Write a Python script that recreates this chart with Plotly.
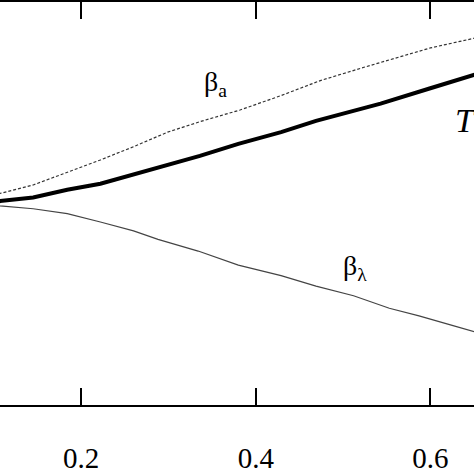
import plotly.graph_objects as go

# T (thick solid)
t_x = [0.100, 0.107, 0.145, 0.184, 0.222, 0.260, 0.299, 0.336, 0.380, 0.429, 0.469, 0.507, 0.543, 0.600, 0.650, 0.660]
t_y = [0.501, 0.506, 0.515, 0.534, 0.549, 0.572, 0.594, 0.618, 0.648, 0.677, 0.705, 0.727, 0.748, 0.786, 0.819, 0.826]

# beta_a (dashed)
ba_x = [0.100, 0.107, 0.145, 0.184, 0.222, 0.260, 0.299, 0.336, 0.382, 0.428, 0.474, 0.524, 0.543, 0.600, 0.650, 0.660]
ba_y = [0.520, 0.525, 0.546, 0.577, 0.608, 0.641, 0.677, 0.703, 0.732, 0.767, 0.805, 0.838, 0.850, 0.886, 0.910, 0.915]

# beta_lambda (thin solid)
bl_x = [0.100, 0.107, 0.145, 0.184, 0.222, 0.260, 0.288, 0.334, 0.380, 0.429, 0.469, 0.512, 0.553, 0.587, 0.626, 0.650, 0.660]
bl_y = [0.496, 0.494, 0.487, 0.475, 0.454, 0.432, 0.411, 0.382, 0.347, 0.321, 0.295, 0.271, 0.240, 0.221, 0.197, 0.181, 0.176]

tick_vals = [0.2, 0.4, 0.6]
tick_text = ["0.2", "0.4", "0.6"]

fig = go.Figure()
fig.add_trace(go.Scatter(x=ba_x, y=ba_y, mode="lines",
                         line=dict(color="#333333", width=1.2, dash="3px,2px")))
fig.add_trace(go.Scatter(x=bl_x, y=bl_y, mode="lines",
                         line=dict(color="#444444", width=1.2)))
fig.add_trace(go.Scatter(x=t_x, y=t_y, mode="lines",
                         line=dict(color="black", width=4)))

serif = "Liberation Serif, Times New Roman, serif"
fig.add_annotation(x=0.3536, y=0.798, text="β<sub>a</sub>", showarrow=False,
                   font=dict(family=serif, size=28, color="black"))
fig.add_annotation(x=0.514, y=0.340, text="β<sub>λ</sub>", showarrow=False,
                   font=dict(family=serif, size=28, color="black"))
fig.add_annotation(x=0.640, y=0.706, text="<i>T</i>", showarrow=False,
                   font=dict(family=serif, size=34, color="black"))

fig.update_layout(
    width=474, height=474,
    margin=dict(l=0, r=0, t=2, b=51),
    paper_bgcolor="white", plot_bgcolor="white",
    showlegend=False,
    xaxis=dict(range=[0.107, 0.650], showgrid=False, zeroline=False,
               showline=True, linecolor="black", linewidth=2, mirror="ticks",
               ticks="inside", ticklen=17, tickwidth=1.5, tickcolor="black",
               tickvals=tick_vals, ticktext=tick_text, ticklabelstandoff=26,
               tickfont=dict(family=serif, size=29, color="black")),
    yaxis=dict(range=[0, 1], visible=False),
)

fig.write_html("out.html", config={"displayModeBar": False},
               post_script="document.body.style.margin='0';")
